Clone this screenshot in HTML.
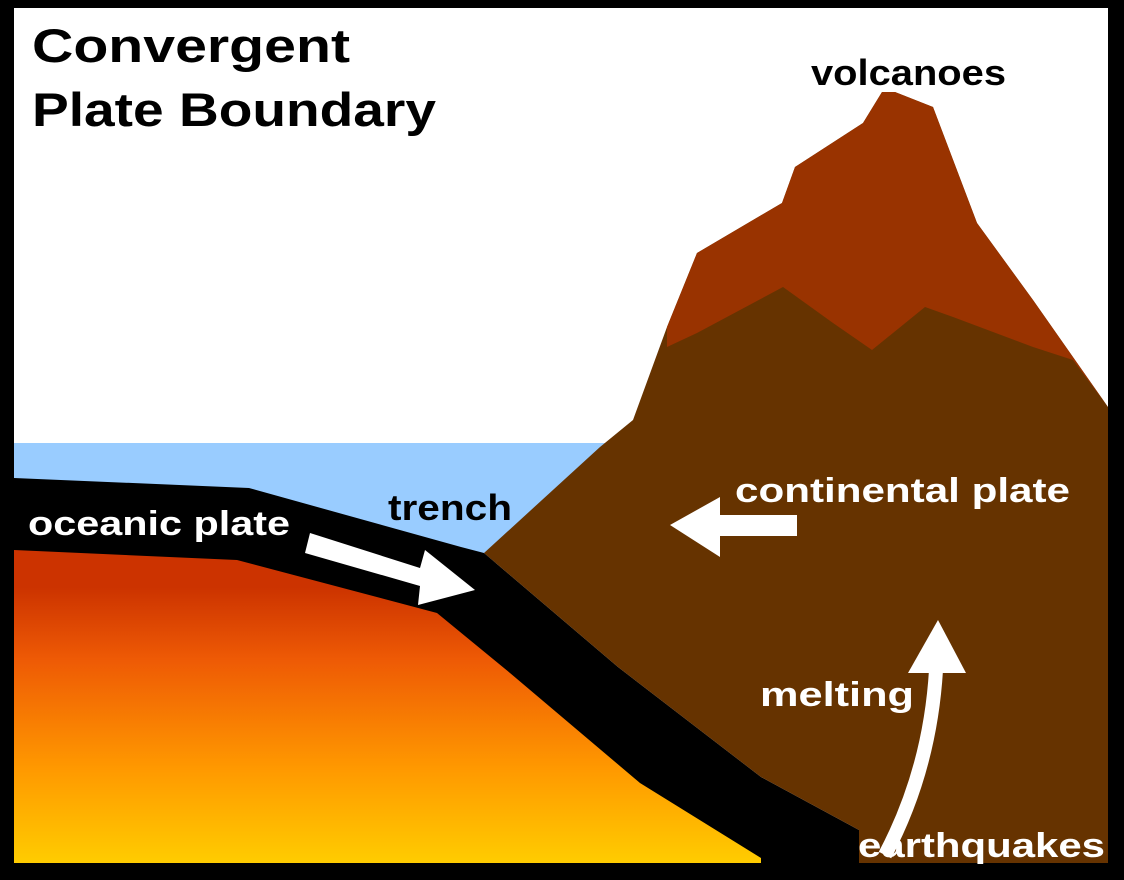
<!DOCTYPE html>
<html><head><meta charset="utf-8"><style>
html,body{margin:0;padding:0;background:#000;}
svg{display:block}
text{font-family:"Liberation Sans",sans-serif;font-weight:bold;}
</style></head><body>
<svg width="1124" height="880" viewBox="0 0 1124 880">
<defs>
<linearGradient id="m" x1="0" y1="0" x2="0" y2="1">
<stop offset="0" stop-color="#cc3300"/>
<stop offset="0.12" stop-color="#cc3300"/>
<stop offset="0.35" stop-color="#ee5a05"/>
<stop offset="0.7" stop-color="#ff9900"/>
<stop offset="1" stop-color="#ffcc00"/>
</linearGradient>
</defs>
<rect width="1124" height="880" fill="#000"/>
<rect x="14" y="8" width="1094" height="855" fill="#fff"/>
<rect x="14" y="443" width="600" height="120" fill="#99ccff"/>
<polygon points="14,478 249,488 461,547 484,553 618,667 761,777 859,830 859,863 14,863" fill="#000"/>
<polygon points="14,550 237,560 437,613 510,673 640,783 761,858 761,863 14,863" fill="url(#m)"/>
<polygon points="484,553 600,447 633,420 667,327 697,253 782,203 795,167 863,123 882,92 895,92 933,107 977,223 1033,300 1108,407 1108,863 859,863 859,830 761,777 618,667" fill="#663300"/>
<polygon points="667,347 667,327 697,253 782,203 795,167 863,123 882,92 895,92 933,107 977,223 1033,300 1108,407 1073,360 1033,347 953,317 925,307 872,350 833,323 783,287 697,333" fill="#993300"/>
<polygon points="310,533 420,568 425,550 475,590 418,605 420,586 305,553" fill="#fff"/>
<polygon points="670,525 720,497 720,515 797,515 797,536 720,536 720,557" fill="#fff"/>
<path d="M885,855 Q930,770 936,670" stroke="#fff" stroke-width="14" fill="none"/>
<polygon points="938,620 908,673 966,673" fill="#fff"/>
<text x="32" y="62" font-size="47" fill="#000" textLength="318" lengthAdjust="spacingAndGlyphs">Convergent</text>
<text x="32" y="126" font-size="47" fill="#000" textLength="404" lengthAdjust="spacingAndGlyphs">Plate Boundary</text>
<text x="811" y="85" font-size="36" fill="#000" textLength="195" lengthAdjust="spacingAndGlyphs">volcanoes</text>
<text x="388" y="520" font-size="36" fill="#000" textLength="124" lengthAdjust="spacingAndGlyphs">trench</text>
<text x="28" y="535" font-size="34" fill="#fff" textLength="262" lengthAdjust="spacingAndGlyphs">oceanic plate</text>
<text x="735" y="502" font-size="34" fill="#fff" textLength="335" lengthAdjust="spacingAndGlyphs">continental plate</text>
<text x="760" y="706" font-size="34" fill="#fff" textLength="154" lengthAdjust="spacingAndGlyphs">melting</text>
<text x="858" y="857" font-size="34" fill="#fff" textLength="247" lengthAdjust="spacingAndGlyphs">earthquakes</text>
</svg>
</body></html>
